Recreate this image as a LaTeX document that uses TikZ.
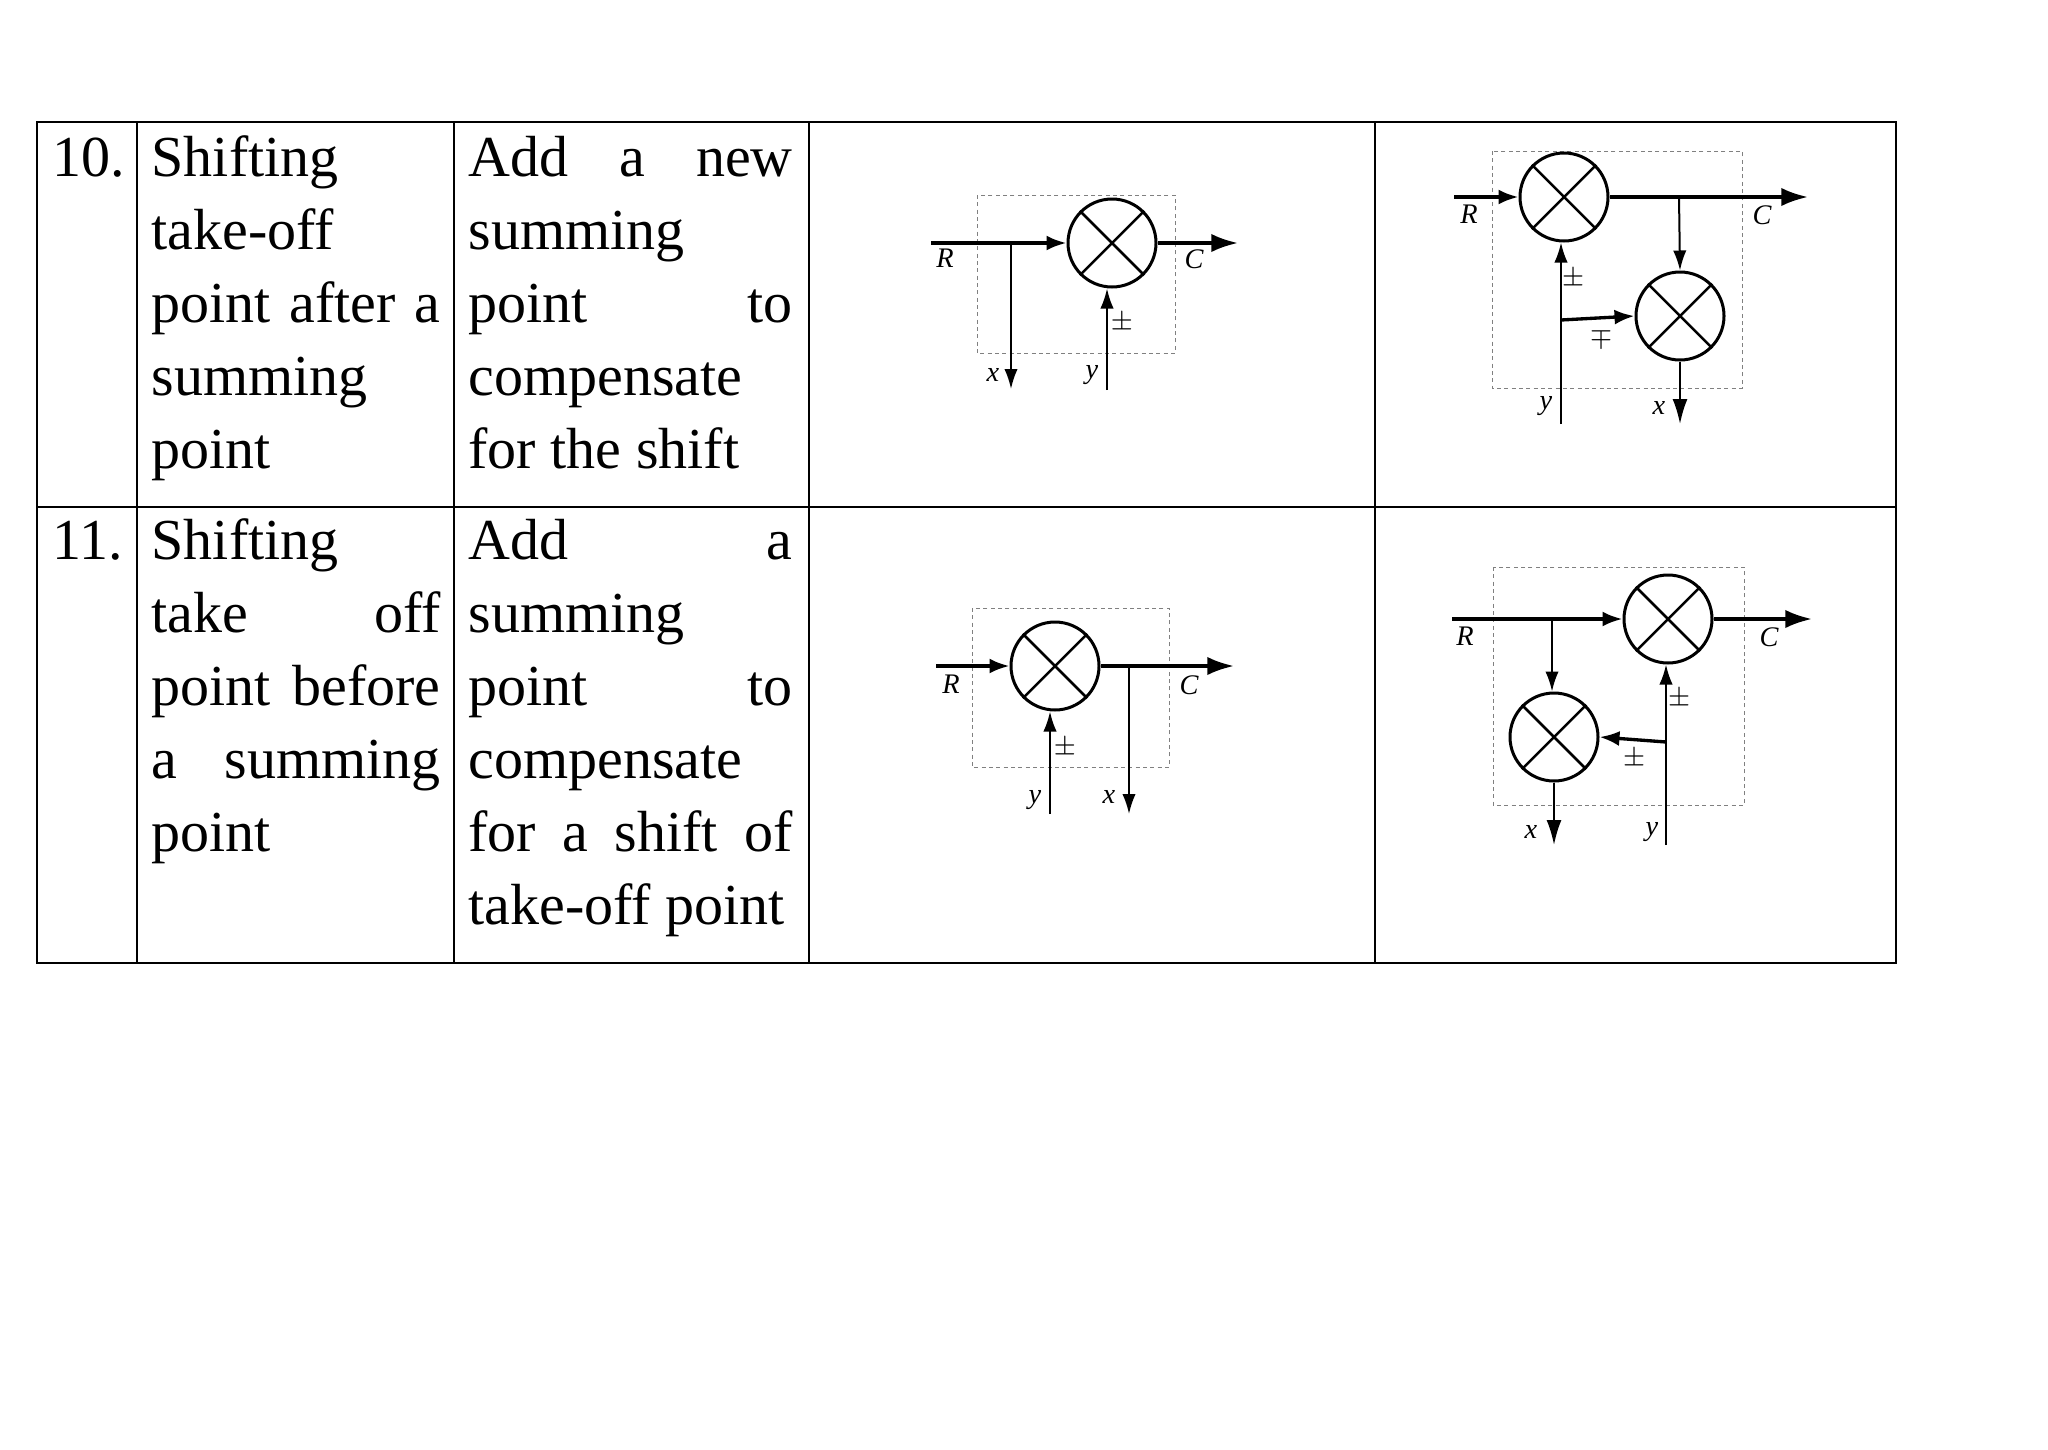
\documentclass[tikz,border=0pt]{standalone}
\usepackage{fontspec}
\setmainfont{Liberation Serif}
\usetikzlibrary{arrows.meta}
\newcommand{\jl}[4]{\node[anchor=base west,inner sep=0] at (#1,#2) {\makebox[#3][s]{#4}};}
\newcommand{\nl}[3]{\node[anchor=base west,inner sep=0] at (#1,#2) {#3};}
\newcommand{\sumpt}[2]{\node[sumc] (#1) at (#2) {};
 \draw[line width=0.75pt] (#1.45)--(#1.225) (#1.135)--(#1.315);}
\begin{document}
\begin{tikzpicture}[x=0.3pt,y=-0.3pt,
  sumc/.style={circle,draw,line width=0.9pt,minimum size=26.4pt,inner sep=0},
  tbl/.style={line width=0.5pt},
  dbox/.style={draw=gray,dashed,dash pattern=on 1.2pt off 1pt,line width=0.3pt},
  thk/.style={line width=1pt,-{Latex[length=6pt,width=4.5pt]}},
  thkC/.style={line width=1pt,-{Latex[length=8pt,width=5.5pt]}},
  thn/.style={line width=0.6pt,-{Latex[length=6pt,width=4pt]}},
  thnX/.style={line width=0.6pt,-{Latex[length=7.5pt,width=4.5pt]}},
  lab/.style={font=\fontsize{8.5}{9}\selectfont\itshape,inner sep=0},
  pm/.style={font=\fontsize{8}{9}\selectfont,inner sep=0},
  every node/.style={font=\fontsize{17.4}{20}\selectfont}]
\useasboundingbox (0,0) rectangle (2048,1449);
% table
\draw[tbl] (37,122) rectangle (1896,963);
\draw[tbl] (37,507) -- (1896,507);
\foreach \x in {137,454,809,1375} \draw[tbl] (\x,122) -- (\x,963);
% row 10 text
\nl{52}{176}{10.}
\nl{151}{176}{Shifting}
\nl{151}{249}{take-off}
\jl{151}{322}{86.7pt}{point after a}
\nl{151}{395}{summing}
\nl{151}{468}{point}
\jl{468}{176}{97.2pt}{Add a new}
\nl{468}{249}{summing}
\jl{468}{322}{97.2pt}{point to}
\nl{468}{395}{compensate}
\nl{468}{468}{for the shift}
% row 11 text
\nl{52}{559}{11.}
\nl{151}{559}{Shifting}
\jl{151}{632}{86.7pt}{take off}
\jl{151}{705}{86.7pt}{point before}
\jl{151}{778}{86.7pt}{a summing}
\nl{151}{851}{point}
\jl{468}{559}{97.2pt}{Add a}
\nl{468}{632}{summing}
\jl{468}{705}{97.2pt}{point to}
\nl{468}{778}{compensate}
\jl{468}{851}{97.2pt}{for a shift of}
\nl{468}{924}{take-off point}
% diagram 1
\draw[dbox] (977,195) rectangle (1175,353);
\sumpt{a}{1112,243}
\coordinate (aR) at (931,243);
\coordinate (aT) at (1011,243);
\coordinate (aX) at (1011,389);
\coordinate (aC) at (1238,243);
\coordinate (aY) at (1107,390);
\draw[thk] (aR) -- (a.west);
\draw[thn] (aT) -- (aX);
\draw[thkC] (a.east) -- (aC);
\draw[thn] (aY) -- (aY |- a.south);
\node[lab] at (945,258) {R};
\node[lab] at (1194,259) {C};
\node[lab] at (993,375) {x};
\node[lab] at (1092,375) {y};
\node[pm] at (1122,323) {$\pm$};
% diagram 2
\draw[dbox] (1492,151) rectangle (1742,388);
\sumpt{b}{1564,197}
\sumpt{b2}{1680,316}
\coordinate (bR) at (1454,197);
\coordinate (bC) at (1808,197);
\coordinate (bT) at (1679,197);
\coordinate (bY) at (1561,424);
\coordinate (bB) at (1561,320);
\coordinate (bX) at (1680,424);
\draw[thk] (bR) -- (b.west);
\draw[thkC] (b.east) -- (bC);
\draw[thn] (bT) -- (b2.north);
\draw[thn] (bY) -- (bY |- b.south);
\draw[thk] (bB) -- (b2.west);
\draw[thnX] (b2.south) -- (bX);
\node[lab] at (1469,214) {R};
\node[lab] at (1762,215) {C};
\node[lab] at (1546,406) {y};
\node[lab] at (1659,408) {x};
\node[pm] at (1573,279) {$\pm$};
\node[pm] at (1601,338) {$\mp$};
% diagram 3
\draw[dbox] (972,608) rectangle (1169,767);
\sumpt{c}{1055,666}
\coordinate (cR) at (936,666);
\coordinate (cC) at (1234,666);
\coordinate (cT) at (1129,666);
\coordinate (cX) at (1129,814);
\coordinate (cY) at (1050,814);
\draw[thk] (cR) -- (c.west);
\draw[thkC] (c.east) -- (cC);
\draw[thn] (cT) -- (cX);
\draw[thn] (cY) -- (cY |- c.south);
\node[lab] at (951,684) {R};
\node[lab] at (1189,685) {C};
\node[lab] at (1109,797) {x};
\node[lab] at (1035,800) {y};
\node[pm] at (1065,748) {$\pm$};
% diagram 4
\draw[dbox] (1493,567) rectangle (1744,805);
\sumpt{d}{1668,619}
\sumpt{d2}{1554,737}
\coordinate (dR) at (1452,619);
\coordinate (dC) at (1812,619);
\coordinate (dT) at (1552,619);
\coordinate (dY) at (1666,845);
\coordinate (dB) at (1666,742);
\coordinate (dX) at (1554,845);
\draw[thk] (dR) -- (d.west);
\draw[thkC] (d.east) -- (dC);
\draw[thn] (dT) -- (dT |- d2.north);
\draw[thn] (dY) -- (dY |- d.south);
\draw[thk] (dB) -- (d2.east);
\draw[thnX] (d2.south) -- (dX);
\node[lab] at (1465,636) {R};
\node[lab] at (1769,637) {C};
\node[lab] at (1531,832) {x};
\node[lab] at (1652,832) {y};
\node[pm] at (1679,699) {$\pm$};
\node[pm] at (1634,759) {$\pm$};
\end{tikzpicture}
\end{document}
